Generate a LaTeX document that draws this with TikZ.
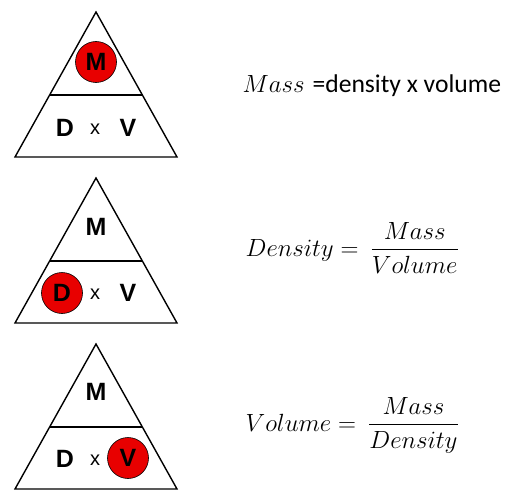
\documentclass[tikz,border=0pt]{standalone}
\usepackage{amsmath}
\usepackage{fontspec}
\setmainfont{Carlito}
\newfontfamily\trifont{Liberation Sans}
\usepackage{tikz}
\definecolor{ballred}{RGB}{232,0,0}

\begin{document}
\begin{tikzpicture}[x=1pt, y=-1pt, line width=1.4pt,
	letter/.style={font=\trifont\bfseries\fontsize{25}{27}\selectfont, inner sep=0pt},
	times/.style={font=\trifont\fontsize{20}{22}\selectfont, inner sep=0pt},
	ball/.style={circle, fill=ballred, draw=black, line width=0.6pt, minimum size=41pt},
	formula/.style={font=\fontsize{23}{28}\selectfont, anchor=base west, inner sep=0pt}]
	\useasboundingbox (0,0) rectangle (519,500);

	% mass triangle
	\draw[line join=miter] (96,12) -- (177,157) -- (15,157) -- cycle;
	\draw (49.6,95) -- (142.4,95);
	\node[letter, ball] (m1) at (96,62) {M};
	\node[letter] (d1) at (65,128) {D};
	\node[times] (x1) at (95,129) {x};
	\node[letter] (v1) at (128,128) {V};

	% density triangle
	\draw[line join=miter] (96,178) -- (177,323) -- (15,323) -- cycle;
	\draw (49.6,261) -- (142.4,261);
	\node[letter] (m2) at (96,227) {M};
	\node[letter, ball] (d2) at (62,293) {D};
	\node[times] (x2) at (95,294) {x};
	\node[letter] (v2) at (128,293) {V};

	% volume triangle
	\draw[line join=miter] (96,344) -- (177,489) -- (15,489) -- cycle;
	\draw (49.6,427) -- (142.4,427);
	\node[letter] (m3) at (96,392) {M};
	\node[letter] (d3) at (65,459) {D};
	\node[times] (x3) at (95,460) {x};
	\node[letter, ball] (v3) at (128,458) {V};

	% formulas
	\node[formula] (f1) at (242,93) {$Mass$\hspace{8pt}\fontsize{25.6}{30}\selectfont =density x volume};
	\node[formula] (f2) at (245,256) {$Density = \ \dfrac{Mass}{Volume}$};
	\node[formula] (f3) at (245,431) {$Volume = \ \dfrac{Mass}{Density}$};
\end{tikzpicture}
\end{document}
